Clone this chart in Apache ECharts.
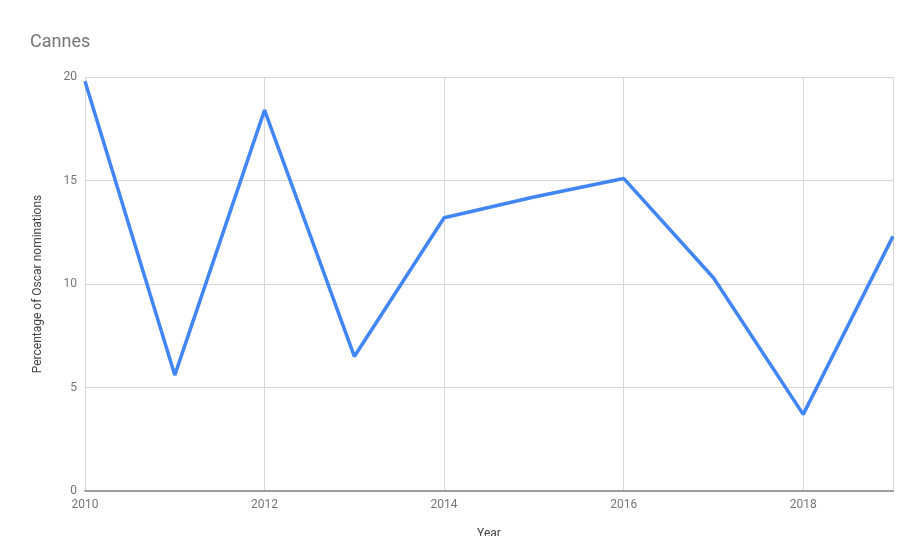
<!DOCTYPE html>
<html><head><meta charset="utf-8">
<script src="https://cdn.jsdelivr.net/npm/echarts@6/dist/echarts.min.js"></script>
<style>html,body{margin:0;padding:0;background:#fff;overflow:hidden}#c{width:923px;height:536px}</style>
</head><body><div id="c"></div>
<script>
const years = [2010, 2011, 2012, 2013, 2014, 2015, 2016, 2017, 2018, 2019];
const cannes = [19.8, 5.6, 18.4, 6.5, 13.2, 14.2, 15.1, 10.3, 3.7, 12.3];
const chart = echarts.init(document.getElementById('c'));
chart.setOption({
  animation: false,
  title: { text: 'Cannes', left: 25, top: 28, textStyle: { fontFamily: 'Roboto', fontSize: 18, fontWeight: 'normal', color: '#757575' } },
  grid: { left: 85, right: 30, top: 77, bottom: 45, containLabel: false, outerBoundsMode: 'none' },
  xAxis: {
    type: 'value', min: 2010, max: 2019, interval: 2,
    name: 'Year', nameLocation: 'middle', nameGap: 37,
    nameTextStyle: { fontFamily: 'Roboto', fontSize: 12, color: '#444' },
    axisLine: { show: true, lineStyle: { color: '#9e9e9e', width: 2 } },
    axisTick: { show: false },
    axisLabel: { fontFamily: 'Roboto', fontSize: 12, color: '#757575', margin: 8, showMaxLabel: false, formatter: v => String(v) },
    splitLine: { show: true, lineStyle: { color: '#d6d6d6', width: 1 } }
  },
  yAxis: {
    type: 'value', min: 0, max: 20, interval: 5,
    name: 'Percentage of Oscar nominations', nameLocation: 'middle', nameGap: 41,
    nameTextStyle: { fontFamily: 'Roboto', fontSize: 12, color: '#444' },
    axisLine: { show: false }, axisTick: { show: false },
    axisLabel: { fontFamily: 'Roboto', fontSize: 12, color: '#757575', margin: 8 },
    splitLine: { show: true, lineStyle: { color: '#d6d6d6', width: 1 } }
  },
  series: [{
    type: 'line', data: years.map((y, i) => [y, cannes[i]]),
    symbol: 'none', lineStyle: { color: '#4285f4', width: 3.5 }
  }]
});
</script></body></html>
